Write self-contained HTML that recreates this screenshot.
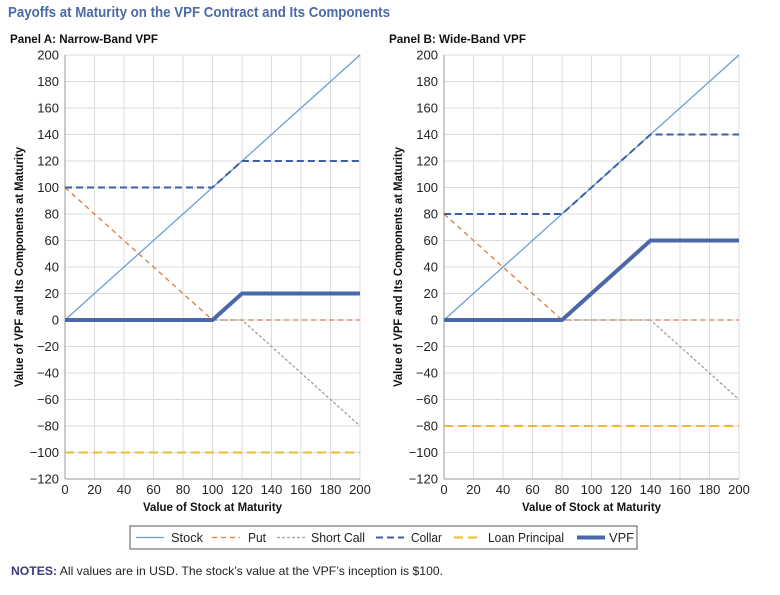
<!DOCTYPE html>
<html><head><meta charset="utf-8"><style>
body{margin:0;background:#fff;width:780px;height:590px;overflow:hidden;font-family:"Liberation Sans",sans-serif}
svg text{font-family:"Liberation Sans",sans-serif}
</style></head><body>
<svg id="c" width="780" height="590">
<text x="8" y="17" font-weight="bold" font-size="15" fill="#4a6aa8" textLength="382" lengthAdjust="spacingAndGlyphs">Payoffs at Maturity on the VPF Contract and Its Components</text>
</svg>
<script>
const xs=[0,20,40,60,80,100,120,140,160,180,200];
const yTicks=[200,180,160,140,120,100,80,60,40,20,0,-20,-40,-60,-80,-100,-120];
// Panel A series (x,y pairs from picture)
const aStock=[[0,0],[200,200]];
const aPut=[[0,100],[100,0],[200,0]];
const aCall=[[0,0],[120,0],[200,-80]];
const aCollar=[[0,100],[100,100],[120,120],[200,120]];
const aLoan=[[0,-100],[200,-100]];
const aVPF=[[0,0],[100,0],[120,20],[200,20]];
// Panel B
const bStock=[[0,0],[200,200]];
const bPut=[[0,80],[80,0],[200,0]];
const bCall=[[0,0],[140,0],[200,-60]];
const bCollar=[[0,80],[80,80],[140,140],[200,140]];
const bLoan=[[0,-80],[200,-80]];
const bVPF=[[0,0],[80,0],[140,60],[200,60]];
const panels=[
 {name:'panel-a',title:'Panel A: Narrow-Band VPF',x0:65,ytl:23,series:[aStock,aPut,aCall,aCollar,aLoan,aVPF]},
 {name:'panel-b',title:'Panel B: Wide-Band VPF',x0:444,ytl:402,series:[bStock,bPut,bCall,bCollar,bLoan,bVPF]}];
const styles=[
 {n:'stock',c:'#6a9fd4',w:1.3,d:''},
 {n:'put',c:'#e07b3c',w:1.3,d:'5,4'},
 {n:'short-call',c:'#a0a0a0',w:1.3,d:'3,2'},
 {n:'collar',c:'#3d5fa8',w:2,d:'7,4'},
 {n:'loan-principal',c:'#f2b830',w:2,d:'9,5'},
 {n:'vpf',c:'#4a68a8',w:4,d:''}];
const svg=document.getElementById('c');const NS='http://www.w3.org/2000/svg';
function mk(t,a,p){const e=document.createElementNS(NS,t);for(const k in a)e.setAttribute(k,a[k]);(p||svg).appendChild(e);return e;}
const W=295,Y0=55,H=424;
panels.forEach(P=>{
 const g=mk('g',{});
 
 
 const X=v=>P.x0+v/200*W, Y=v=>Y0+(200-v)/320*H;
 const t=mk('text',{x:P.x0-55,y:43,'font-size':12,'font-weight':'bold',fill:'#111',textLength:P.name=='panel-a'?148:137,lengthAdjust:'spacingAndGlyphs'},g);t.textContent=P.title;
 
 xs.forEach(v=>{mk('line',{x1:X(v),x2:X(v),y1:Y0,y2:Y0+H,stroke:'#dcdcdc'},g);
  const tx=mk('text',{x:X(v),y:Y0+H+15,'font-size':13,'text-anchor':'middle',fill:'#222'},g);tx.textContent=v;
  });
 yTicks.forEach(v=>{mk('line',{x1:X(0),x2:X(200),y1:Y(v),y2:Y(v),stroke:'#dcdcdc'},g);
  const ty=mk('text',{x:P.x0-6,y:Y(v)+4.5,'font-size':13,'text-anchor':'end',fill:'#222'},g);ty.textContent=v<0?'\u2212'+(-v):v;
  });
 mk('line',{x1:X(0),x2:X(0),y1:Y0,y2:Y0+H,stroke:'#999'},g);
 mk('line',{x1:X(0),x2:X(200),y1:Y0+H,y2:Y0+H,stroke:'#999'},g);
 const xt=mk('text',{x:X(100),y:511,'font-size':12,'font-weight':'bold','text-anchor':'middle',fill:'#111',textLength:139,lengthAdjust:'spacingAndGlyphs'},g);xt.textContent='Value of Stock at Maturity';
 
 const yt=mk('text',{x:0,y:0,'font-size':12,'font-weight':'bold','text-anchor':'middle',fill:'#111',textLength:240,lengthAdjust:'spacingAndGlyphs',transform:`translate(${P.ytl},${Y0+H/2}) rotate(-90)`},g);yt.textContent='Value of VPF and Its Components at Maturity';
 
 P.series.forEach((s,i)=>{const st=styles[i];
  const p=mk('polyline',{points:s.map(q=>X(q[0])+','+Y(q[1])).join(' '),fill:'none',stroke:st.c,'stroke-width':st.w,'stroke-dasharray':st.d},g);
  });
});
// legend
const lg=mk('g',{});

mk('rect',{x:130,y:526,width:507,height:23,fill:'#fff',stroke:'#555'},lg);
const labels=['Stock','Put','Short Call','Collar','Loan Principal','VPF'];
const lx=[136,212,277,376,454,577];
const tx=[171,248,311,411,488,609];
const tw=[32,18,54,31,76,25];
labels.forEach((L,i)=>{const st=styles[i];
 const e=mk('g',{},lg);
 
 mk('line',{x1:lx[i],x2:lx[i]+28,y1:537.5,y2:537.5,stroke:st.c,'stroke-width':st.w,'stroke-dasharray':st.d},e);
 const t=mk('text',{x:tx[i],y:542,'font-size':13,fill:'#222',textLength:tw[i],lengthAdjust:'spacingAndGlyphs'},e);t.textContent=L;});
const n=mk('text',{x:11,y:575,'font-size':12,fill:'#222',textLength:432,lengthAdjust:'spacingAndGlyphs'});

n.innerHTML='<tspan font-weight="bold" fill="#3a3a7a">NOTES:</tspan> All values are in USD. The stock\u2019s value at the VPF\u2019s inception is $100.';
</script>
</body></html>
